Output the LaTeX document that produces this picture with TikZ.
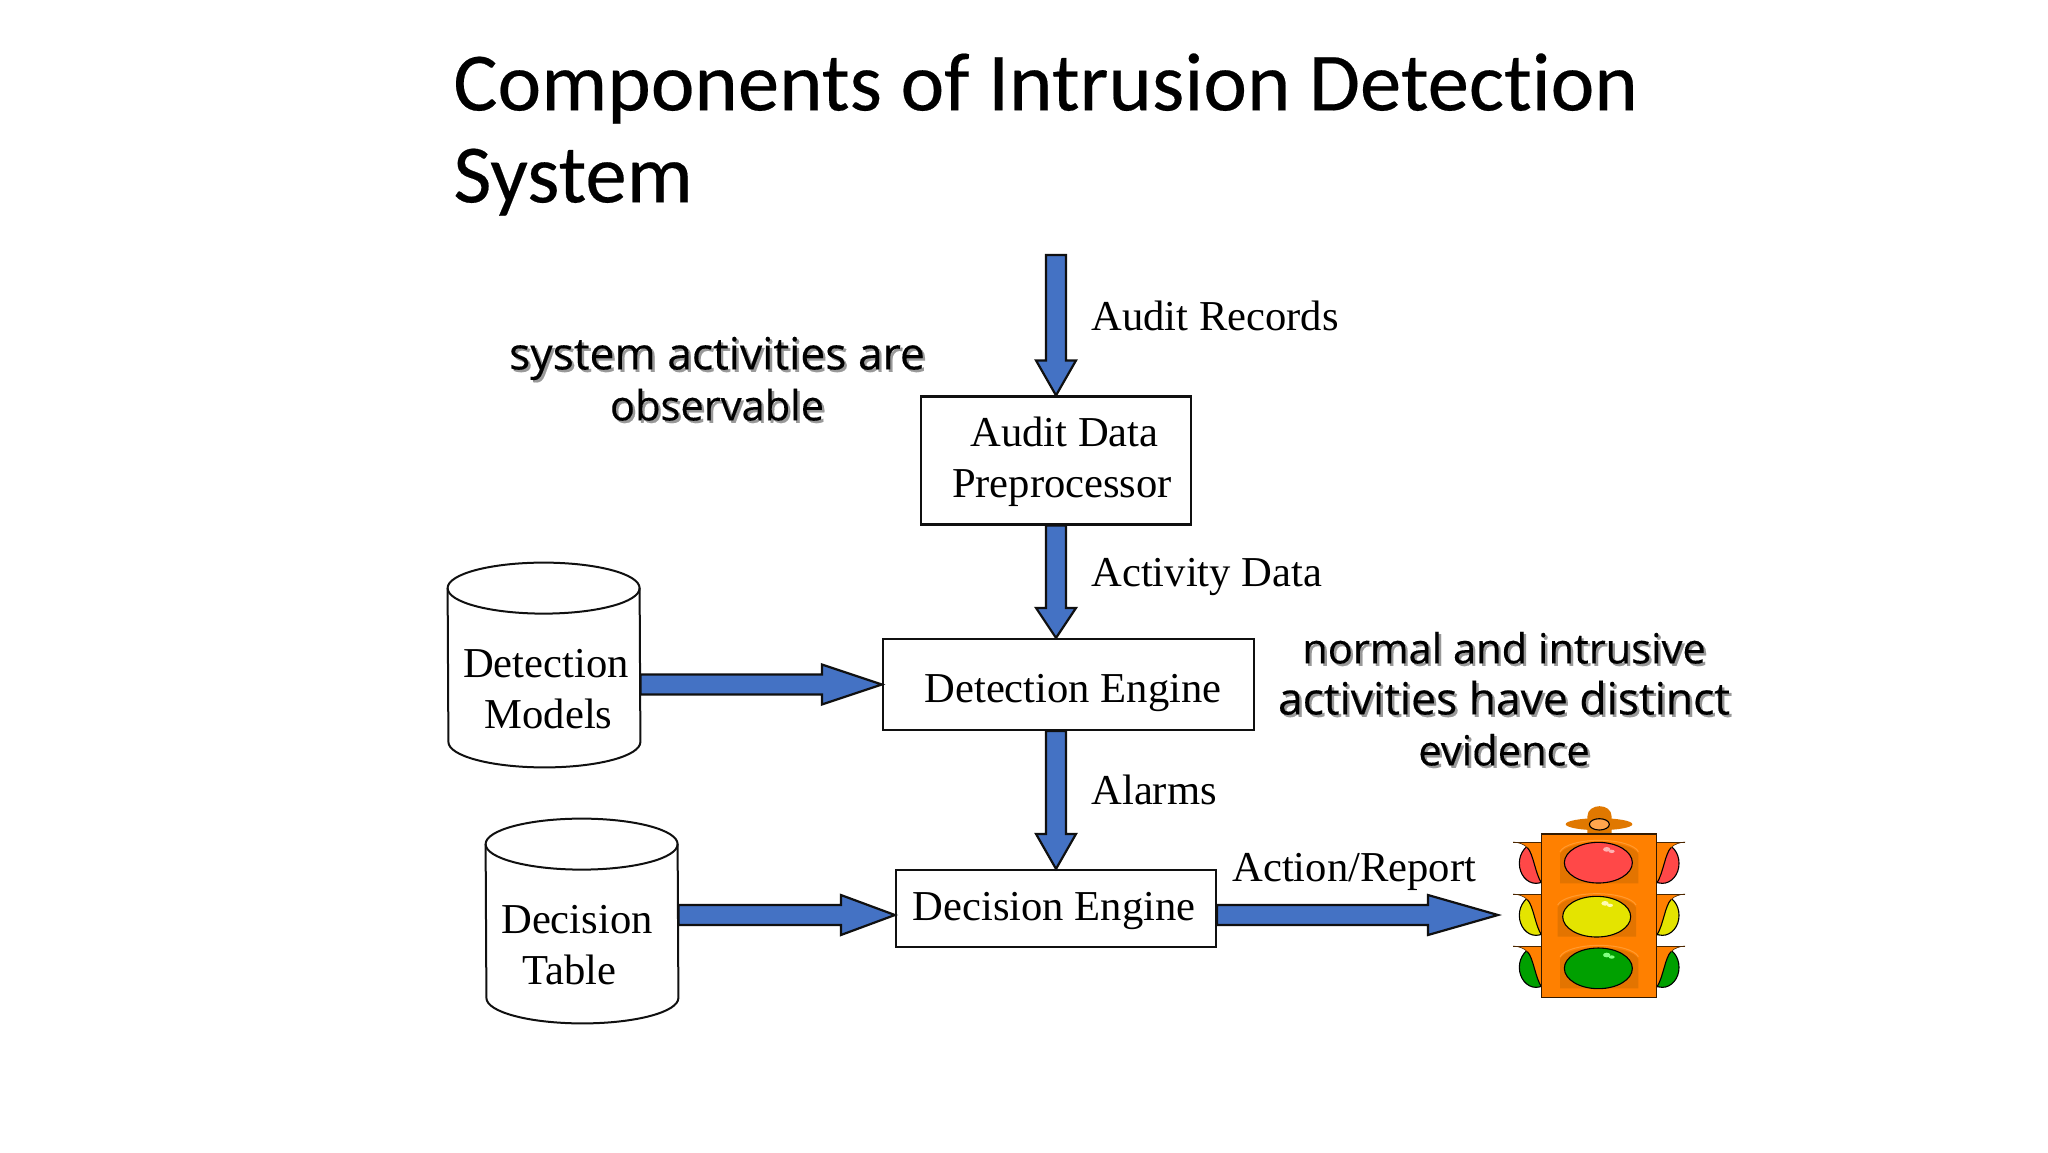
\documentclass[tikz,border=0pt]{standalone}
\usepackage{fontspec}
\setmainfont{Liberation Serif}
\newfontfamily\titlefont[Ligatures=NoCommon,FakeBold=0.25]{Carlito}
\newfontfamily\notefont[FakeBold=0.3]{Open Sans}
\usetikzlibrary{calc,shapes.geometric}

\definecolor{arrowblue}{HTML}{4472C4}
\definecolor{lineblack}{HTML}{101010}
\definecolor{tlbody}{HTML}{FF8000}
\definecolor{tlhood}{HTML}{E37400}
\definecolor{tlrim}{HTML}{FF9A30}
\definecolor{tlcap}{HTML}{E07800}
\definecolor{tllamp}{HTML}{FFA64D}
\definecolor{tlred}{HTML}{FF4848}
\definecolor{tlyellow}{HTML}{E4E400}
\definecolor{tlgreen}{HTML}{00A000}

\tikzset{
  box/.style={draw=lineblack,line width=1.1pt,fill=white,inner sep=0pt},
  drum/.style={rectangle,inner sep=0pt,minimum width=96pt,minimum height=102pt},
  drumline/.style={draw=lineblack,line width=1pt,fill=white},
  lbl/.style={font=\fontsize{21.3}{25.5}\selectfont,align=center,inner sep=0pt,text=black},
  note/.style={font=\notefont\fontsize{22.2}{25.5}\selectfont,align=center,inner sep=0pt},
  titletxt/.style={font=\titlefont\fontsize{41.4}{46}\selectfont,align=left,inner sep=0pt,anchor=north west},
  blockarrow/.style={draw=lineblack,line width=1.1pt,fill=arrowblue,line join=miter},
}

% block arrow: from, to, head length, half width of head
\newcommand{\blockarrow}[4]{%
  \coordinate (h) at ($(#2)!#3!(#1)$);
  \draw[blockarrow] ($(#1)!5pt!90:(#2)$) -- ($(h)!5pt!90:(#2)$) -- ($(h)!#4!90:(#2)$) -- (#2)
    -- ($(h)!#4!-90:(#2)$) -- ($(h)!5pt!-90:(#2)$) -- ($(#1)!5pt!-90:(#2)$) -- cycle;
}
% can outline round a drum node
\newcommand{\drumshape}[1]{%
  \draw[drumline] ($(#1.north west)+(0,25.5)$) arc [start angle=180,end angle=0,x radius=48pt,y radius=12.75pt]
    -- ($(#1.south east)+(0,-25.5)$) arc [start angle=360,end angle=180,x radius=48pt,y radius=12.75pt] -- cycle;
  \draw[drumline,fill=none] ($(#1.north west)+(0,25.5)$) arc [start angle=180,end angle=360,x radius=48pt,y radius=12.75pt];
}
\newcommand{\shadowed}[1]{\makebox[0pt][l]{\hspace{1.2pt}\raisebox{-1.2pt}{\textcolor{black!40}{#1}}}#1}
\newcommand{\shadowedsmall}[1]{{\fontsize{20.8}{25.5}\selectfont\shadowed{#1}}}

\begin{document}
\begin{tikzpicture}[x=0.5pt,y=-0.5pt]
\useasboundingbox (0,0) rectangle (2048,1152);

\node[titletxt] (title) at (453,53) {Components of Intrusion Detection\\System};

% boxes
\node[box,minimum width=135pt,minimum height=64pt] (audit) at (1056,460.5) {};
\node[box,minimum width=185.5pt,minimum height=45.5pt] (det) at (1068.5,684.5) {};
\node[box,minimum width=160pt,minimum height=38.5pt] (dec) at (1056,908.5) {};
\node[drum] (dm) at (544,665) {};
\node[drum] (dt) at (582,921) {};
\drumshape{dm}
\drumshape{dt}

% box texts
\node[lbl] (audittxt) at (1062,462) {\hspace*{2.5pt}Audit Data\\Preprocessor};
\node[lbl] (dettxt) at (1073,692.5) {Detection Engine};
\node[lbl] (dectxt) at (1054,910.5) {Decision Engine};
\node[lbl] (dmtxt) at (546,689) {Detection\\\hspace*{2.6pt}Models};
\node[lbl] (dttxt) at (577,945) {Decision\\Table\hspace*{8pt}};

% flow labels
\node[lbl,anchor=base west] (l1) at (1091,330) {Audit Records};
\node[lbl,anchor=base west] (l2) at (1091,586) {Activity Data};
\node[lbl,anchor=base west] (l3) at (1091,804) {Alarms};
\node[lbl,anchor=base west] (l4) at (1232,881) {Action/Report};

% notes
\node[note] (n1) at (717,380) {\shadowed{system activities are}\\\shadowedsmall{observable}};
\node[note] (n2) at (1504,700) {\shadowedsmall{normal and intrusive}\\\shadowed{activities have distinct}\\\shadowedsmall{evidence}};

% block arrows
\coordinate (start) at (1056,255);
\coordinate (flow) at (1056,915);
\coordinate (tip) at (1498,915);
\blockarrow{start}{audit.north}{17.5pt}{10pt}
\blockarrow{audit.south}{audit.south |- det.north}{15pt}{10pt}
\blockarrow{audit.south |- det.south}{dec.north}{17.5pt}{10pt}
\blockarrow{dm.east |- det.west}{det.west}{30pt}{10pt}
\blockarrow{dt.east |- flow}{dec.west |- flow}{27pt}{10pt}
\blockarrow{dec.east |- flow}{tip}{35pt}{10pt}

% traffic light
\begin{scope}[shift={(1450,780)},x=0.16667pt,y=-0.16667pt,line width=0.55pt]
  \foreach \dy/\col in {0/tlred,156/tlyellow,312/tlgreen}{
    \begin{scope}[yshift=-\dy*0.16667pt]
      \draw[fill=\col,draw=black] (258,250) ellipse [x radius=50,y radius=60];
      \draw[fill=\col,draw=black] (637,250) ellipse [x radius=50,y radius=60];
      \fill[tlbody] (190,186) -- (280,186) -- (280,310) -- (275,310)
        .. controls (255,280) and (250,220) .. (232,203) .. controls (222,192) and (205,187) .. (190,186) -- cycle;
      \draw[black] (232,203) .. controls (250,220) and (255,280) .. (275,310);
      \draw[black!70!tlbody,line width=0.3pt] (190,186) .. controls (205,187) and (222,192) .. (232,203);
      \draw[black!70!tlbody,line width=0.3pt] (190,186) -- (275,186);
      \fill[tlbody] (705,186) -- (615,186) -- (615,310) -- (620,310)
        .. controls (640,280) and (645,220) .. (663,203) .. controls (673,192) and (690,187) .. (705,186) -- cycle;
      \draw[black] (663,203) .. controls (645,220) and (640,280) .. (620,310);
      \draw[black!70!tlbody,line width=0.3pt] (705,186) .. controls (690,187) and (673,192) .. (663,203);
      \draw[black!70!tlbody,line width=0.3pt] (620,186) -- (705,186);
    \end{scope}
  }
  % cap on top
  \fill[tlcap] (447,132.5) ellipse [x radius=100,y radius=18];
  \fill[tlcap] (412,165) -- (412,110) .. controls (412,68) and (485,68) .. (485,110) -- (485,165) -- cycle;
  \draw[fill=tllamp,draw=black] (448,133) ellipse [x radius=30,y radius=17];
  % body
  \draw[fill=tlbody,draw=black!80!tlbody] (275,162) rectangle (620,652);
  \foreach \dx/\dy/\lx/\ly/\col/\shine in {0/0/445/248/tlred/red!30!white,-7/160/440/410/tlyellow/yellow!30!white,0/315/445/565/tlgreen/green!50!white}{
    \begin{scope}[xshift=\dx*0.16667pt,yshift=-\dy*0.16667pt]
      \fill[tlhood] (330,310) -- (330,222) .. controls (340,200) and (390,188) .. (447,188)
        .. controls (505,188) and (555,200) .. (565,222) -- (565,310) -- cycle;
      \draw[tlrim,line width=0.5pt] (330,215) .. controls (340,195) and (390,181) .. (447,181)
        .. controls (505,181) and (555,195) .. (565,215);
    \end{scope}
    \draw[fill=\col,draw=black] (\lx,\ly) ellipse [x radius=102,y radius=61];
    \fill[\shine] (\lx+25,\ly-40) ellipse [x radius=11,y radius=7];
    \fill[\shine] (\lx+40,\ly-34) ellipse [x radius=9,y radius=5];
  }
\end{scope}
\end{tikzpicture}
\end{document}
